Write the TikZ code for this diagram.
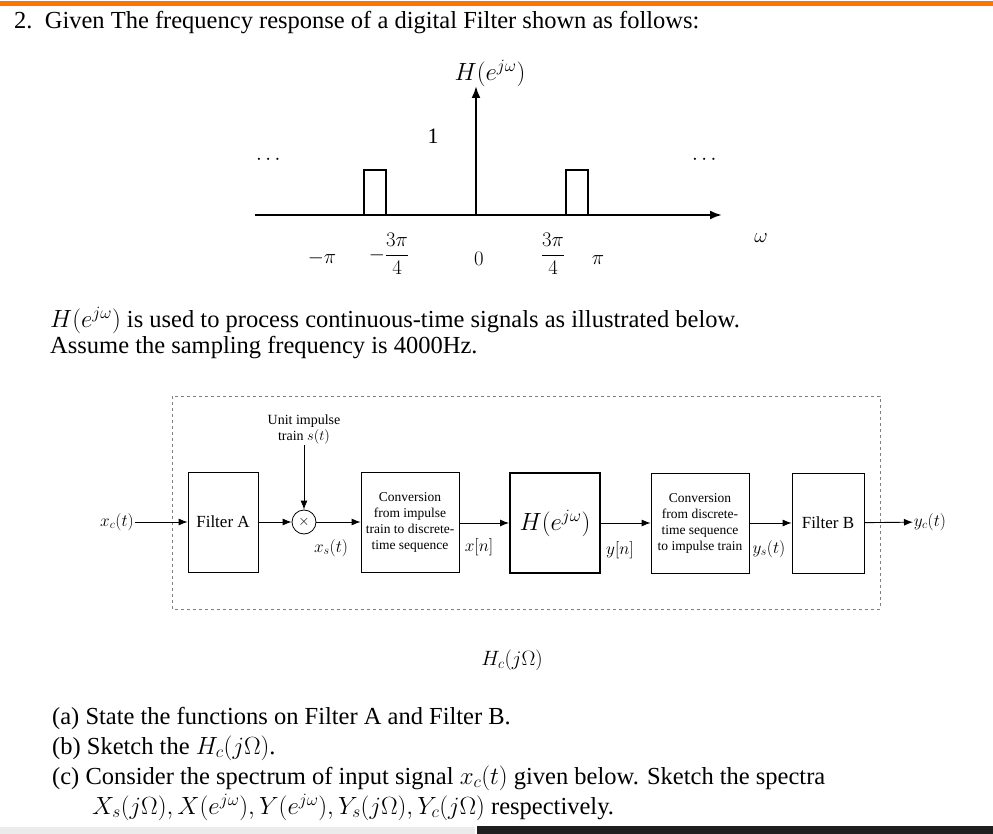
\documentclass[tikz,border=0pt]{standalone}
\usepackage{amsmath}
\usepackage{amssymb}
\usepackage{fontspec}
\setmainfont{Liberation Serif}
\usetikzlibrary{arrows.meta,positioning}

\tikzset{
  txt/.style={anchor=west,inner sep=0pt,font=\fontsize{24.5}{28}\selectfont},
  blk/.style={draw,line width=0.8pt,minimum width=70pt,minimum height=100pt,inner sep=1pt,align=center,font=\fontsize{17}{18}\selectfont},
  cnv/.style={blk,minimum width=98pt,font=\fontsize{13.5}{16}\selectfont},
  lbl/.style={inner sep=0.75pt,font=\fontsize{18}{20}\selectfont},
  plb/.style={inner sep=0.75pt,font=\fontsize{22}{24}\selectfont},
  sig/.style={-{Latex[length=9pt,width=7pt]},line width=0.9pt},
  axs/.style={-{Latex[length=12pt,width=9pt]},line width=2.2pt},
}

\begin{document}
\begin{tikzpicture}[x=1pt,y=1pt,yscale=-1]
\useasboundingbox (0,0) rectangle (993,834);
% top rule and bottom bars
\fill[orange!90!red] (0,1) rectangle (993,6);
\fill[black!8] (0,827) rectangle (475,834);
\fill[black!88] (477,826) rectangle (993,834);

% heading
\node[txt] (title) at (14,23) {2.\ \ Given The frequency response of a digital Filter shown as follows:};

% spectrum plot
\coordinate (o) at (476,215);
\coordinate (wend) at (722,215);
\coordinate (wstart) at (255,215);
\coordinate (htop) at (476,86);
\draw[line width=2.2pt] (wstart) -- (o);
\draw[axs] (o) -- (wend);
\draw[axs] (o) -- (htop);
\draw[line width=1.4pt] (364,215) -- (364,170) -- (386,170) -- (386,215);
\draw[line width=1.4pt] (566,215) -- (566,170) -- (588,170) -- (588,215);
\node[plb,font=\fontsize{24}{26}\selectfont] (hlab) at (490,73) {$H(e^{j\omega})$};
\node[plb] (one) at (433,136) {1};
\node[plb] (dl) at (270,160) {$\cdots$};
\node[plb] (dr) at (706,160) {$\cdots$};
\node[plb] (om) at (761,238) {$\omega$};
\node[plb] (mpi) at (322,258) {$-\pi$};
\node[plb] (m3pi) at (389,254) {$-\dfrac{3\pi}{4}$};
\node[plb] (zero) at (479,259) {$0$};
\node[plb] (p3pi) at (553,254) {$\dfrac{3\pi}{4}$};
\node[plb] (ppi) at (598,260) {$\pi$};

% text
\node[txt] (use) at (50,320) {$H(e^{j\omega})$ is used to process continuous-time signals as illustrated below.};
\node[txt] (fs) at (50,348) {Assume the sampling frequency is 4000Hz.};

% block diagram
\draw[dashed,gray,line width=0.8pt] (172,396) rectangle (880,609);
\node[blk] (fa) at (223,522) {Filter A};
\node[draw,circle,line width=0.8pt,minimum size=24pt,inner sep=0pt,font=\fontsize{14}{16}\selectfont] (mul) at (304,522) {$\times$};
\node[cnv] (c1) at (410,522) {Conversion\\from impulse\\train to discrete-\\time sequence};
\node[blk,line width=2pt,minimum width=90pt,font=\fontsize{23}{24}\selectfont] (h) at (555,523) {$H(e^{j\omega})$};
\node[cnv] (c2) at (700,523) {Conversion\\from discrete-\\time sequence\\to impulse train};
\node[blk,minimum width=72pt] (fb) at (828,523) {Filter B};
\node[lbl] (xc) at (117,522) {$x_c(t)$};
\node[lbl] (yc) at (930,522) {$y_c(t)$};
\node[lbl,align=center,font=\fontsize{14}{16}\selectfont] (imp) at (304,429) {Unit impulse\\train $s(t)$};
\node[lbl] (xs) at (331,548) {$x_s(t)$};
\node[lbl] (xn) at (479,547) {$x[n]$};
\node[lbl] (yn) at (620,550) {$y[n]$};
\node[lbl] (ys) at (769,549) {$y_s(t)$};
\draw[sig] (xc) -- (fa);
\draw[sig] (fa) -- (mul);
\draw[sig] (imp) -- (mul);
\draw[sig] (mul) -- (c1);
\draw[sig] (c1.east |- h) -- (h);
\draw[sig] (h) -- (c2);
\draw[sig] (c2) -- (fb);
\draw[sig] (fb) -- (yc);
\node[lbl,font=\fontsize{22}{24}\selectfont] (hc) at (512,660) {$H_c(j\Omega)$};

% questions
\node[txt] (qa) at (52,718) {(a) State the functions on Filter A and Filter B.};
\node[txt] (qb) at (52,748) {(b) Sketch the $H_c(j\Omega)$.};
\node[txt] (qc) at (52,778) {(c) Consider the spectrum of input signal $x_c(t)$ given below. Sketch the spectra};
\node[txt] (qd) at (92,807) {$X_s(j\Omega),X(e^{j\omega}),Y(e^{j\omega}),Y_s(j\Omega),Y_c(j\Omega)$ respectively.};
\end{tikzpicture}
\end{document}
